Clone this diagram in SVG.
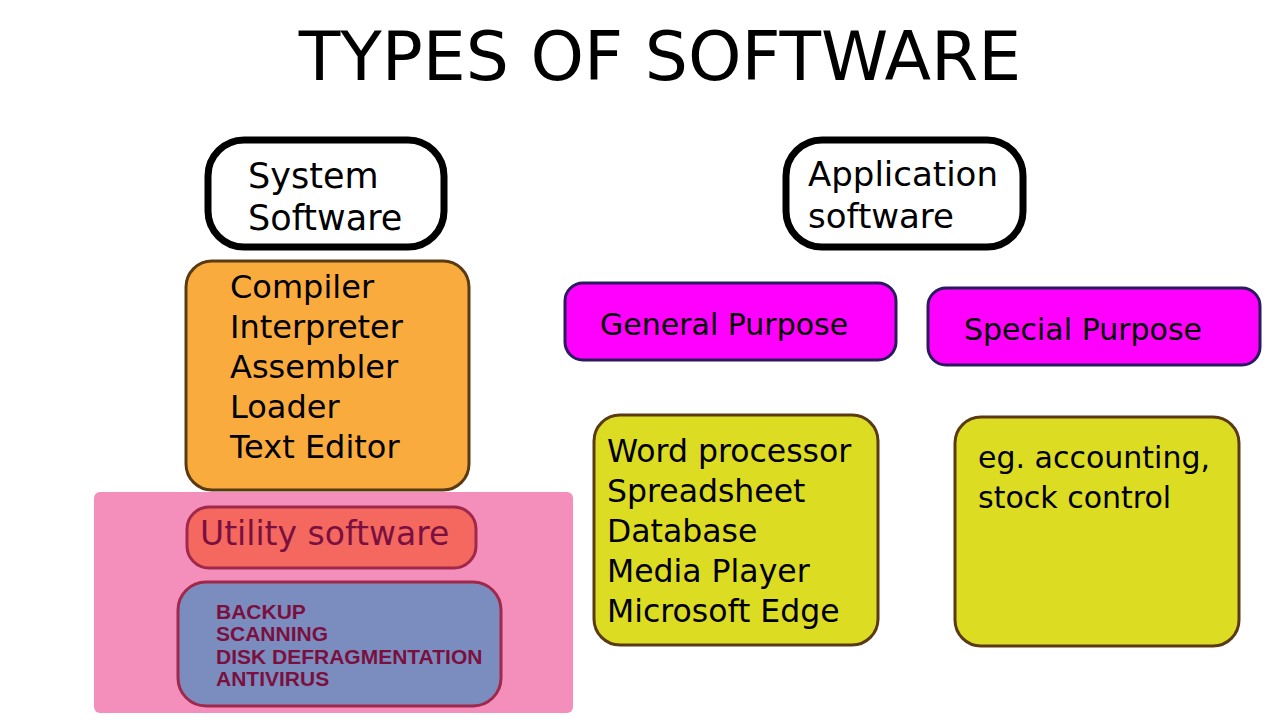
<svg xmlns="http://www.w3.org/2000/svg" width="1280" height="720" viewBox="0 0 1280 720">
<style>
.t{font-family:"DejaVu Sans","Liberation Sans",sans-serif;fill:#000}
.head{fill:#fff;stroke:#000;stroke-width:7}
.yel{fill:#DCDC22;stroke:#5A3A12;stroke-width:3}
.mag{fill:#FF00FF;stroke:#2A1A5E;stroke-width:3}
.util{font-family:"Liberation Sans",Arial,sans-serif;font-weight:bold;font-size:21px;fill:#7A1040}
</style>
<rect width="1280" height="720" fill="#fff"/>
<text id="title" class="t" x="660" y="80" font-size="68" text-anchor="middle">TYPES OF SOFTWARE</text>
<g id="system">
<rect class="head" x="208" y="140" width="236" height="107" rx="36"/>
<text class="t" font-size="35" x="248" y="188">System</text>
<text class="t" font-size="35" x="248" y="230">Software</text>
</g>
<g id="system-list">
<rect x="186" y="261" width="283" height="229" rx="26" fill="#F9AC3D" stroke="#5A3A12" stroke-width="3"/>
<text class="t" font-size="32" x="230" y="298">Compiler</text>
<text class="t" font-size="32" x="230" y="338">Interpreter</text>
<text class="t" font-size="32" x="230" y="378">Assembler</text>
<text class="t" font-size="32" x="230" y="418">Loader</text>
<text class="t" font-size="32" x="230" y="458">Text Editor</text>
</g>
<g id="utility-area">
<rect x="94" y="492" width="479" height="221" rx="6" fill="#F48FBC"/>
</g>
<g id="utility">
<rect x="187" y="507" width="289" height="61" rx="22" fill="#F4685F" stroke="#A0284A" stroke-width="3"/>
<text class="t" font-size="33" x="200" y="545" style="fill:#7A1040">Utility software</text>
</g>
<g id="utility-list">
<rect x="178" y="582" width="323" height="124" rx="28" fill="#7A8DBE" stroke="#A0284A" stroke-width="3"/>
<text class="util" x="216" y="619">BACKUP</text>
<text class="util" x="216" y="641">SCANNING</text>
<text class="util" x="216" y="664">DISK DEFRAGMENTATION</text>
<text class="util" x="216" y="686">ANTIVIRUS</text>
</g>
<g id="application">
<rect class="head" x="786" y="140" width="237" height="107" rx="36"/>
<text class="t" font-size="34" x="808" y="186">Application</text>
<text class="t" font-size="34" x="808" y="228">software</text>
</g>
<g id="general">
<rect class="mag" x="565" y="283" width="331" height="77" rx="18"/>
<text class="t" font-size="30" x="600" y="335">General Purpose</text>
</g>
<g id="special">
<rect class="mag" x="928" y="288" width="332" height="77" rx="18"/>
<text class="t" font-size="30" x="964" y="340">Special Purpose</text>
</g>
<g id="general-list">
<rect class="yel" x="594" y="415" width="284" height="230" rx="26"/>
<text class="t" font-size="31.5" x="607" y="462">Word processor</text>
<text class="t" font-size="31.5" x="607" y="502">Spreadsheet</text>
<text class="t" font-size="31.5" x="607" y="542">Database</text>
<text class="t" font-size="31.5" x="607" y="582">Media Player</text>
<text class="t" font-size="31.5" x="607" y="622">Microsoft Edge</text>
</g>
<g id="special-list">
<rect class="yel" x="955" y="417" width="284" height="229" rx="26"/>
<text class="t" font-size="30" x="978" y="468">eg. accounting,</text>
<text class="t" font-size="30" x="978" y="508">stock control</text>
</g>
<g id="connectors"></g>
</svg>
